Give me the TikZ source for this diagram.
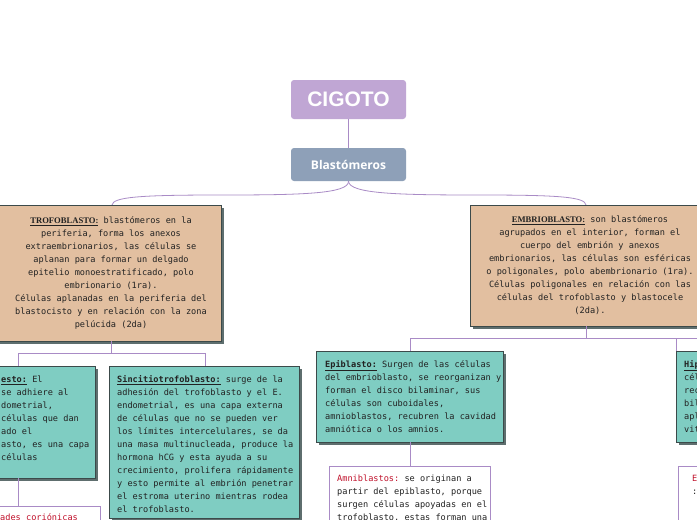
\documentclass[tikz,border=0pt]{standalone}
\usepackage{fontspec}
\setmonofont{DejaVu Sans Mono}
\newfontfamily\hd{Liberation Serif}
\newfontfamily\os{Open Sans}
\definecolor{lav}{HTML}{C0A6D4}
\definecolor{slate}{HTML}{8EA0B8}
\definecolor{tan}{HTML}{E2BFA0}
\definecolor{teal}{HTML}{7FCDC2}
\definecolor{bord}{HTML}{3C4A4A}
\definecolor{shad}{HTML}{5E6E6E}
\definecolor{lin}{HTML}{A98BC6}
\definecolor{redt}{HTML}{C0102A}
\definecolor{txt}{HTML}{222222}
\newcommand\hh[1]{{\hd\bfseries\underline{#1}}}
\newcommand\hm[1]{{\bfseries\underline{#1}}}
\begin{document}
\begin{tikzpicture}[x=1pt,y=-1pt,
  conn/.style={draw=lin,line width=0.8pt},
  tanbox/.style={fill=tan,draw=bord,line width=0.6pt},
  tealbox/.style={fill=teal,draw=bord,line width=0.6pt},
  whitebox/.style={fill=white,draw=lin,line width=0.8pt},
  shadowbox/.style={fill=shad,draw=none},
  tx/.style={font=\ttfamily\fontsize{8.6}{13}\selectfont,text=txt,inner sep=0pt}]
\useasboundingbox (0,0) rectangle (697,520);
\clip (0,0) rectangle (697,520);
\fill[white] (0,0) rectangle (697,520);
% top nodes
\node[fill=lav,rounded corners=3pt,minimum width=115pt,minimum height=39pt,inner sep=0pt,text=white,font=\fontspec{Liberation Sans}\bfseries\fontsize{21}{24}\selectfont] (cig) at (348.5,99.5) {CIGOTO};
\node[fill=slate,rounded corners=3pt,minimum width=115pt,minimum height=33pt,inner sep=0pt,text=white,font=\os\bfseries\fontsize{12}{14}\selectfont] (bla) at (348.5,164.5) {Blastómeros};
\draw[conn] (cig.south) -- (bla.north);
\coordinate (tt) at (112,205);
\coordinate (et) at (586,205);
\draw[conn] (bla.south) .. controls (349,194) and (300,195) .. (220,195) .. controls (140,195) and (113,197) .. (tt);
\draw[conn] (bla.south) .. controls (349,194) and (400,195) .. (480,195) .. controls (560,195) and (585,197) .. (et);
% trofoblasto
\fill[shadowbox] (-3,208) rectangle (224,344);
\draw[tanbox] (-3,205) rectangle (221,341);
\node[tx,align=center] (trof) at (111,273) {\hh{TROFOBLASTO:} blastómeros en la\\periferia, forma los anexos\\extraembrionarios, las células se\\aplanan para formar un delgado\\epitelio monoestratificado, polo\\embrionario (1ra).\\Células aplanadas en la periferia del\\blastocisto y en relación con la zona\\pelúcida (2da)};
\coordinate (tb) at (111,341);
\draw[conn] (tb) -- (111,353) (18,353) -- (205,353) (18,353) -- (18,366) (205,353) -- (205,366);
% citotrofoblasto (clipped)
\fill[shadowbox] (-50,369) rectangle (98,481);
\draw[tealbox] (-50,366) rectangle (95,478);
\node[tx,align=left,anchor=north west] (cito) at (1,376) {\hm{esto:} El\\ se adhiere al\\dometrial,\\células que dan\\ado el\\asto, es una capa\\ células};
\draw[conn] (18,478) -- (18,506);
\draw[whitebox] (-50,506) rectangle (100,560);
\node[tx,anchor=north west,text=redt] (vel) at (0,513) {ades coriónicas};
% sincitio
\fill[shadowbox] (112,369) rectangle (302,521);
\draw[tealbox] (109,366) rectangle (299,518);
\node[tx,align=left,anchor=north west] (sinc) at (117,375) {\hm{Sincitiotrofoblasto:} surge de la\\adhesión del trofoblasto y el E.\\endometrial, es una capa externa\\de células que no se pueden ver\\los límites intercelulares, se da\\una masa multinucleada, produce la\\hormona hCG y esta ayuda a su\\crecimiento, prolifera rápidamente\\y esto permite al embrión penetrar\\el estroma uterino mientras rodea\\el trofoblasto.};
% embrioblasto
\fill[shadowbox] (473,208) rectangle (740,329);
\draw[tanbox] (470,205) rectangle (737,326);
\node[tx,align=center] (emb) at (590,265) {\hh{EMBRIOBLASTO:} son blastómeros\\agrupados en el interior, forman el\\cuerpo del embrión y anexos\\embrionarios, las células son esféricas\\o poligonales, polo abembrionario (1ra).\\Células poligonales en relación con las\\células del trofoblasto y blastocele\\(2da).};
\draw[conn] (586,326) -- (586,338) (410,338) -- (720,338) (410,338) -- (410,351) (676,338) -- (676,351);
% epiblasto
\fill[shadowbox] (319,354) rectangle (506,445);
\draw[tealbox] (316,351) rectangle (503,442);
\node[tx,align=left,anchor=north west] (epi) at (325,360) {\hm{Epiblasto:} Surgen de las células\\del embrioblasto, se reorganizan y\\forman el disco bilaminar, sus\\células son cuboidales,\\amnioblastos, recubren la cavidad\\amniótica o los amnios.};
\draw[conn] (410,442) -- (410,466);
\draw[whitebox] (329,466) rectangle (490,560);
\node[tx,align=left,anchor=north west] (amn) at (337,475) {\textcolor{redt}{Amniblastos:} se originan a\\partir del epiblasto, porque\\surgen células apoyadas en el\\trofoblasto, estas forman una};
% hipoblasto
\fill[shadowbox] (679,354) rectangle (760,445);
\draw[tealbox] (676,351) rectangle (757,442);
\node[tx,align=left,anchor=north west] (hip) at (684,360) {\hm{Hip}\\cél\\rec\\bil\\apl\\vit};
\draw[whitebox] (678,466) rectangle (760,560);
\node[tx,align=left,anchor=north west] (hb) at (692,475) {\textcolor{redt}{E}\\ :};
\end{tikzpicture}
\end{document}
